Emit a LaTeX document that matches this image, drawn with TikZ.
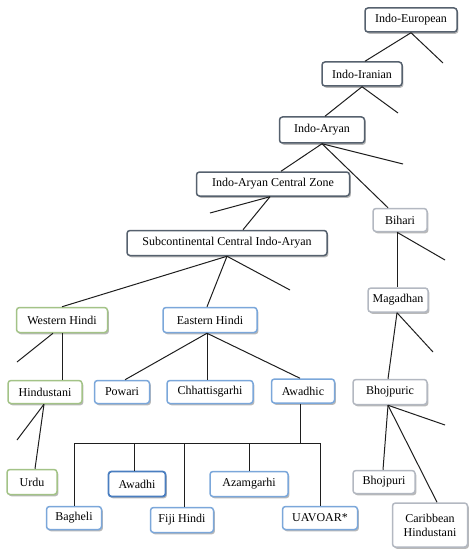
\documentclass[tikz,border=0pt]{standalone}
\usepackage{fontspec}
\setmainfont{Liberation Serif}
\usetikzlibrary{shadows}
\definecolor{darkb}{HTML}{56616E}
\definecolor{blueb}{HTML}{7BA7DA}
\definecolor{blued}{HTML}{4A7EC0}
\definecolor{greenb}{HTML}{A3C387}
\definecolor{grayb}{HTML}{B3B8C1}
\definecolor{linec}{HTML}{1E1E1E}
\tikzset{
  box/.style={draw, fill=white, rounded corners=3pt, line width=1.5pt, inner sep=0pt,
    font=\fontsize{12}{14}\selectfont, align=center,
    drop shadow={shadow xshift=1.4pt, shadow yshift=-1.8pt, fill=black!55, opacity=0.5}},
  dk/.style={box, draw=darkb},
  bl/.style={box, draw=blueb},
  bd/.style={box, draw=blued, line width=1.8pt},
  gr/.style={box, draw=greenb},
  gy/.style={box, draw=grayb},
  edge/.style={draw=linec, line width=1pt},
}
\begin{document}
\begin{tikzpicture}[x=1pt, y=-1pt]
\useasboundingbox (0,0) rectangle (474,556);
% nodes
\node[dk, minimum width=92pt, minimum height=24pt] (ie) at (411,20) {Indo-European};
\node[dk, minimum width=80pt, minimum height=24pt] (ii) at (362,74) {Indo-Iranian};
\node[dk, minimum width=85pt, minimum height=26pt] (ia) at (322,130) {Indo-Aryan};
\node[dk, minimum width=153pt, minimum height=24pt] (iacz) at (273,184) {Indo-Aryan Central Zone};
\node[gy, minimum width=54pt, minimum height=23pt] (bihari) at (400,220) {Bihari};
\node[dk, minimum width=200pt, minimum height=25pt] (sub) at (227,243) {Subcontinental Central Indo-Aryan};
\node[gr, minimum width=91pt, minimum height=25pt] (wh) at (62,320) {Western Hindi};
\node[bl, minimum width=94pt, minimum height=25pt] (eh) at (210,320) {Eastern Hindi};
\node[gy, minimum width=60pt, minimum height=24pt] (mag) at (398,300) {Magadhan};
\node[gr, minimum width=74pt, minimum height=23pt] (hind) at (45,392) {Hindustani};
\node[bl, minimum width=55pt, minimum height=23pt] (pow) at (122,392) {Powari};
\node[bl, minimum width=86pt, minimum height=23pt] (chh) at (210,392) {Chhattisgarhi};
\node[bl, minimum width=63pt, minimum height=24pt] (awc) at (303,391) {Awadhic};
\node[gy, minimum width=74pt, minimum height=25pt] (bhc) at (390,392) {Bhojpuric};
\node[gr, minimum width=50pt, minimum height=25pt] (urdu) at (32,482) {Urdu};
\node[bd, minimum width=57pt, minimum height=25pt] (awd) at (137,484) {Awadhi};
\node[bl, minimum width=78pt, minimum height=25pt] (aza) at (249,484) {Azamgarhi};
\node[gy, minimum width=62pt, minimum height=23pt] (bho) at (384,482) {Bhojpuri};
\node[bl, minimum width=55pt, minimum height=23pt] (bag) at (74,518) {Bagheli};
\node[bl, minimum width=63pt, minimum height=25pt] (fiji) at (182,520) {Fiji Hindi};
\node[bl, minimum width=75pt, minimum height=23pt] (uav) at (320,518) {UAVOAR*};
\node[gy, minimum width=75pt, minimum height=44pt] (car) at (430,525) {Caribbean\\Hindustani};
% stub ends
\coordinate (s1) at (443,63);
\coordinate (s2) at (398,113);
\coordinate (s3) at (403,164);
\coordinate (s4) at (210,213);
\coordinate (s5) at (290,290);
\coordinate (s6) at (17,362);
\coordinate (s7) at (17,440);
\coordinate (s8) at (445,260);
\coordinate (s9) at (433,352);
\coordinate (s10) at (445,425);
\coordinate (bus) at (300,443);
% edges
\draw[edge] (ie.south) -- ([xshift=3pt]ii.north);
\draw[edge] (ie.south) -- (s1);
\draw[edge] (ii.south) -- ([xshift=3pt]ia.north);
\draw[edge] (ii.south) -- (s2);
\draw[edge] (ia.south) -- ([xshift=8pt]iacz.north);
\draw[edge] (ia.south) -- ([xshift=-12pt]bihari.north);
\draw[edge] (ia.south) -- (s3);
\draw[edge] ([xshift=-3pt]iacz.south) -- ([xshift=16pt]sub.north);
\draw[edge] ([xshift=-3pt]iacz.south) -- (s4);
\draw[edge] (sub.south) -- (wh.north);
\draw[edge] (sub.south) -- ([xshift=-3pt]eh.north);
\draw[edge] (sub.south) -- (s5);
\draw[edge] ([xshift=-9pt]wh.south) -- (s6);
\draw[edge] (wh.south) -- (wh.south |- hind.north);
\draw[edge] ([xshift=-1pt]hind.south) -- ([xshift=3pt]urdu.north);
\draw[edge] ([xshift=-1pt]hind.south) -- (s7);
\draw[edge] ([xshift=-3pt]eh.south) -- ([xshift=3pt]pow.north);
\draw[edge] ([xshift=-3pt]eh.south) -- ([xshift=-3pt]chh.north);
\draw[edge] ([xshift=-3pt]eh.south) -- ([xshift=-3pt]awc.north);
\draw[edge] ([xshift=-3pt]awc.south) -- (bus);
\draw[edge] (bag.north) -- (bag.north |- bus) -- (uav.north |- bus) -- (uav.north);
\draw[edge] (awd.north -| 134,0) -- (134,443);
\draw[edge] (fiji.north -| 184,0) -- (184,443);
\draw[edge] (aza.north) -- (aza.north |- bus);
\draw[edge] ([xshift=-3pt]bihari.south) -- ([xshift=-1pt]mag.north);
\draw[edge] ([xshift=-3pt]bihari.south) -- (s8);
\draw[edge] ([xshift=-1pt]mag.south) -- ([xshift=-2pt]bhc.north);
\draw[edge] ([xshift=-1pt]mag.south) -- (s9);
\draw[edge] ([xshift=-2pt]bhc.south) -- ([xshift=-1pt]bho.north);
\draw[edge] ([xshift=-2pt]bhc.south) -- ([xshift=7pt]car.north);
\draw[edge] ([xshift=-2pt]bhc.south) -- (s10);
\end{tikzpicture}
\end{document}
